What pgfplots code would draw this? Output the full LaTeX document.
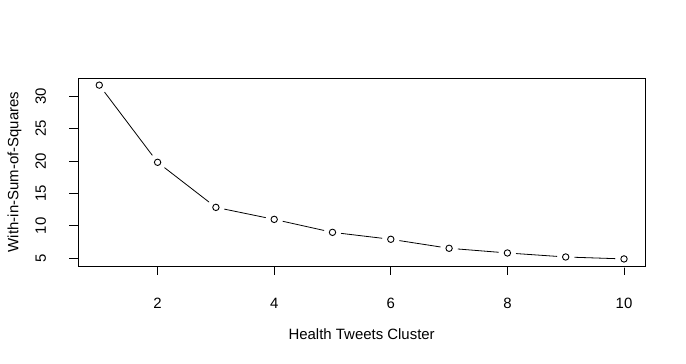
\documentclass[border=0pt]{standalone}
\usepackage{fontspec}
\setmainfont{Liberation Sans}
\usepackage{pgfplots}
\usepackage{pgfplotstable}
\pgfplotsset{compat=1.18}
\pgfplotstableread{
k wss
1 31.7
2 19.8
3 12.85
4 11.0
5 9.0
6 7.93
7 6.54
8 5.82
9 5.2
10 4.9
}\wsstable
\pgfplotsset{rbase/.style={
  at={(78.3bp,98bp)}, anchor=south west,
  scale only axis, width=566.7bp, height=188bp,
  xmin=0.64, xmax=10.36, ymin=3.81, ymax=32.8,
  clip=false}}
\begin{document}
\begin{tikzpicture}
\useasboundingbox (0,0) rectangle (686bp,364bp);
\begin{axis}[rbase, hide axis]
\addplot[black, line width=0.8bp] table[x=k, y=wss] {\wsstable};
\end{axis}
\begin{axis}[rbase,
  xtick={2,4,6,8,10}, ytick={5,10,15,20,25,30},
  tick align=outside, xtick pos=left, ytick pos=left,
  major tick length=9bp,
  tick style={black, line width=0.9bp},
  axis line style={line width=0.9bp},
  /pgf/number format/assume math mode=true,
  ticklabel style={font=\fontsize{15}{18}\selectfont},
  xticklabel style={anchor=center, yshift=-28.5bp},
  yticklabel style={xshift=-28.5bp, rotate=90, anchor=center},
  label style={font=\fontsize{15}{18}\selectfont},
  xlabel={Health Tweets Cluster},
  ylabel={With-in-Sum-of-Squares},
  xlabel style={at={(axis description cs:0.5,-0.3617)}, anchor=center},
  ylabel style={at={(axis description cs:-0.1126,0.5)}, anchor=center},
]
\addplot[only marks, mark=*, mark size=8.5bp, mark options={draw=white, fill=white}] table[x=k, y=wss] {\wsstable};
\addplot[only marks, mark=o, mark size=3.2bp, mark options={line width=0.9bp, draw=black, fill=white}] table[x=k, y=wss] {\wsstable};
\end{axis}
\draw[black, line width=0.9bp] (78.3bp,98bp) rectangle (645bp,286bp);
\end{tikzpicture}
\end{document}
